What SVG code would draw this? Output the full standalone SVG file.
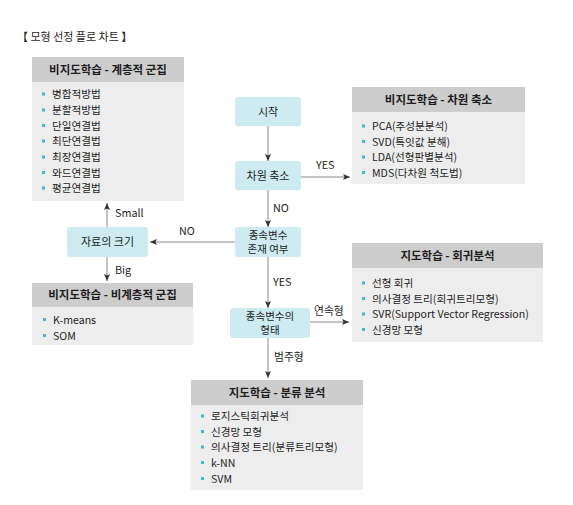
<svg xmlns="http://www.w3.org/2000/svg" width="573" height="505" viewBox="0 0 573 505">
<style>
text{font-family:"Noto Sans CJK KR","Noto Sans",sans-serif;fill:#1e1e1e}
.t{font-size:11px}
.h{font-size:11.5px;font-weight:bold;text-anchor:middle}
.i{font-size:10.6px}
.n{font-size:11px;text-anchor:middle}
.n2{font-size:10.5px;text-anchor:middle}
.l{font-size:10.8px}
.hd{fill:#cdcdcd}
.bd{fill:#ededed}
.nd{fill:#cdebf1}
.b{fill:#3fb8d3}
.c{stroke:#8a8a8a;stroke-width:1;fill:none;marker-end:url(#ar)}
</style>
<defs>
<marker id="ar" viewBox="0 0 8 8" refX="7" refY="4" markerWidth="8" markerHeight="8" markerUnits="userSpaceOnUse" orient="auto">
<path d="M0,1 L7,4 L0,7 L1.5,4 Z" fill="#333"/>
</marker>
</defs>
<rect width="573" height="505" fill="#ffffff"/>
<text class="t" x="17" y="41">【 모형 선정 플로 차트 】</text>

<g id="connectors">
<line class="c" x1="268" y1="126" x2="268" y2="161"/>
<line class="c" x1="301" y1="177" x2="350" y2="177"/>
<line class="c" x1="268" y1="190" x2="268" y2="227"/>
<line class="c" x1="235" y1="242" x2="150" y2="242"/>
<line class="c" x1="107" y1="227" x2="107" y2="203"/>
<line class="c" x1="107" y1="257" x2="107" y2="281"/>
<line class="c" x1="268" y1="257" x2="268" y2="308"/>
<line class="c" x1="310" y1="322" x2="349" y2="322"/>
<line class="c" x1="268" y1="338" x2="268" y2="378"/>
<text class="l" x="316" y="169">YES</text>
<text class="l" x="273" y="212">NO</text>
<text class="l" x="179" y="235">NO</text>
<text class="l" x="115" y="217">Small</text>
<text class="l" x="115" y="274">Big</text>
<text class="l" x="273" y="286">YES</text>
<text class="l" x="314" y="315">연속형</text>
<text class="l" x="274" y="361">범주형</text>
</g>

<g id="node-start">
<rect class="nd" x="235" y="97" width="66" height="29" rx="3"/>
<text class="n" x="268" y="115.5">시작</text>
</g>
<g id="node-dimred">
<rect class="nd" x="235" y="161" width="66" height="29" rx="3"/>
<text class="n" x="268" y="179.5">차원 축소</text>
</g>
<g id="node-dep">
<rect class="nd" x="235" y="227" width="66" height="30" rx="3"/>
<text class="n2" x="268" y="238.5">종속변수</text>
<text class="n2" x="268" y="253">존재 여부</text>
</g>
<g id="node-size">
<rect class="nd" x="67" y="227" width="81" height="30" rx="3"/>
<text class="n" x="107.5" y="245.5">자료의 크기</text>
</g>
<g id="node-form">
<rect class="nd" x="230" y="308" width="80" height="30" rx="3"/>
<text class="n2" x="270" y="319.5">종속변수의</text>
<text class="n2" x="270" y="334">형태</text>
</g>

<g id="box-hier">
<rect class="hd" x="32" y="57" width="152" height="25"/>
<rect class="bd" x="32" y="82" width="152" height="119"/>
<text class="h" x="108" y="73.5">비지도학습 - 계층적 군집</text>
<rect class="b" x="42" y="92.5" width="3" height="3"/><text class="i" x="52" y="98">병합적방법</text>
<rect class="b" x="42" y="108.5" width="3" height="3"/><text class="i" x="52" y="114">분할적방법</text>
<rect class="b" x="42" y="124" width="3" height="3"/><text class="i" x="52" y="129.5">단일연결법</text>
<rect class="b" x="42" y="139.5" width="3" height="3"/><text class="i" x="52" y="145">최단연결법</text>
<rect class="b" x="42" y="155.5" width="3" height="3"/><text class="i" x="52" y="161">최장연결법</text>
<rect class="b" x="42" y="171" width="3" height="3"/><text class="i" x="52" y="176.5">와드연결법</text>
<rect class="b" x="42" y="186.5" width="3" height="3"/><text class="i" x="52" y="192">평균연결법</text>
</g>

<g id="box-dimred">
<rect class="hd" x="352" y="87" width="173" height="25"/>
<rect class="bd" x="352" y="112" width="173" height="72"/>
<text class="h" x="438.5" y="103.5">비지도학습 - 차원 축소</text>
<rect class="b" x="362" y="124.5" width="3" height="3"/><text class="i" x="372" y="130">PCA(주성분분석)</text>
<rect class="b" x="362" y="140" width="3" height="3"/><text class="i" x="372" y="145.5">SVD(특잇값 분해)</text>
<rect class="b" x="362" y="155.5" width="3" height="3"/><text class="i" x="372" y="161">LDA(선형판별분석)</text>
<rect class="b" x="362" y="171" width="3" height="3"/><text class="i" x="372" y="176.5">MDS(다차원 척도법)</text>
</g>

<g id="box-nonhier">
<rect class="hd" x="32" y="283" width="161" height="24"/>
<rect class="bd" x="32" y="307" width="161" height="38"/>
<text class="h" x="112.5" y="299">비지도학습 - 비계층적 군집</text>
<rect class="b" x="43" y="318" width="3" height="3"/><text class="i" x="53" y="323.5">K-means</text>
<rect class="b" x="43" y="334" width="3" height="3"/><text class="i" x="53" y="339.5">SOM</text>
</g>

<g id="box-regr">
<rect class="hd" x="352" y="243" width="191" height="25"/>
<rect class="bd" x="352" y="268" width="191" height="74"/>
<text class="h" x="447.5" y="259.5">지도학습 - 회귀분석</text>
<rect class="b" x="362" y="281.5" width="3" height="3"/><text class="i" x="372" y="287">선형 회귀</text>
<rect class="b" x="362" y="297" width="3" height="3"/><text class="i" x="372" y="302.5">의사결정 트리(회귀트리모형)</text>
<rect class="b" x="362" y="312.5" width="3" height="3"/><text class="i" x="372" y="318">SVR(Support Vector Regression)</text>
<rect class="b" x="362" y="328" width="3" height="3"/><text class="i" x="372" y="333.5">신경망 모형</text>
</g>

<g id="box-class">
<rect class="hd" x="191" y="380" width="172" height="25"/>
<rect class="bd" x="191" y="405" width="172" height="85"/>
<text class="h" x="277" y="396.5">지도학습 - 분류 분석</text>
<rect class="b" x="201" y="414.5" width="3" height="3"/><text class="i" x="211" y="420">로지스틱회귀분석</text>
<rect class="b" x="201" y="430" width="3" height="3"/><text class="i" x="211" y="435.5">신경망 모형</text>
<rect class="b" x="201" y="445.5" width="3" height="3"/><text class="i" x="211" y="451">의사결정 트리(분류트리모형)</text>
<rect class="b" x="201" y="461" width="3" height="3"/><text class="i" x="211" y="466.5">k-NN</text>
<rect class="b" x="201" y="477" width="3" height="3"/><text class="i" x="211" y="482.5">SVM</text>
</g>
</svg>
